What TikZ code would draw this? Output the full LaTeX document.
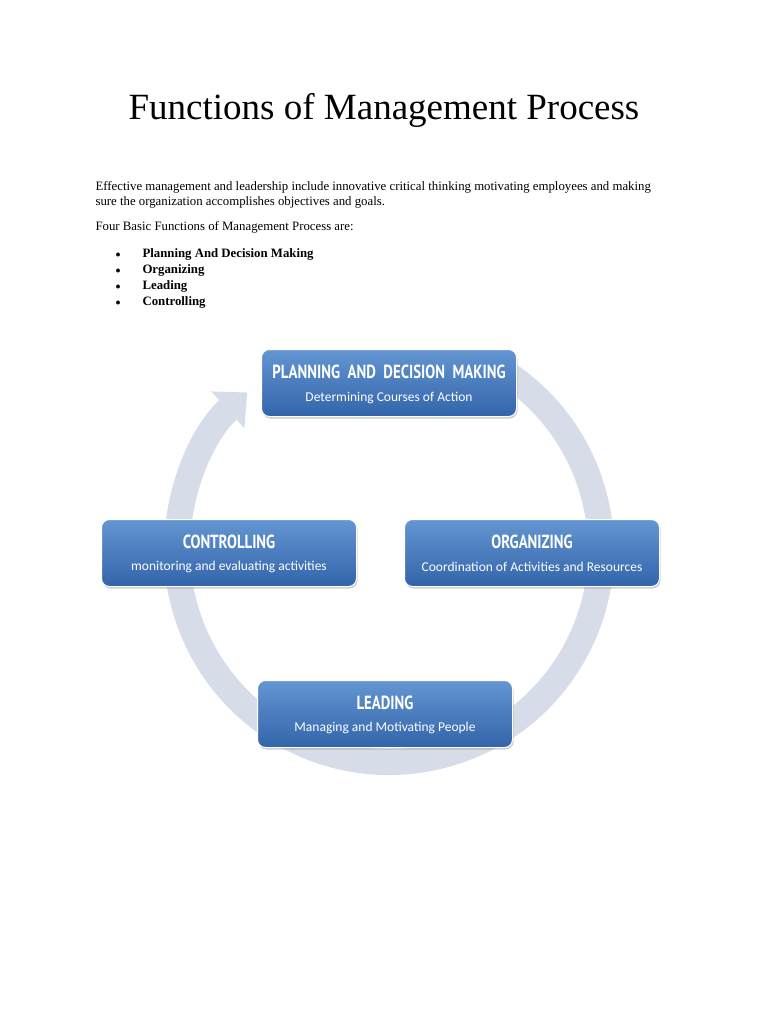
\documentclass[tikz,border=0pt]{standalone}
\usepackage{fontspec}
\setmainfont{Liberation Serif}
\newfontfamily\boxfont{Carlito}
\newfontfamily\headfont{PT Sans}
\usetikzlibrary{arrows.meta,shadows}
\definecolor{band}{RGB}{214,220,232}
\definecolor{boxtop}{RGB}{100,150,210}
\definecolor{boxbot}{RGB}{50,100,170}
\tikzset{
 fbox/.style={rounded corners=8pt, minimum width=255pt, minimum height=67pt, draw=white, line width=1pt,
   top color=boxtop, bottom color=boxbot, drop shadow={shadow xshift=1pt,shadow yshift=-2pt,opacity=0.4}},
 ftitle/.style={text=white, xscale=0.78, font=\headfont\bfseries\fontsize{19}{20}\selectfont},
 fsub/.style={text=white, font=\boxfont\fontsize{13.5}{14}\selectfont},
 para/.style={anchor=base west, font=\fontsize{12.8}{14}\selectfont},
 bul/.style={anchor=base west, font=\bfseries\fontsize{12.8}{14}\selectfont}
}
\begin{document}
\begin{tikzpicture}[x=1pt,y=-1pt]
\useasboundingbox (0,0) rectangle (768,1024);
\node[anchor=base, font=\fontsize{37}{40}\selectfont] (title) at (384,120) {Functions of Management Process};
\node[para] (p1) at (92,191) {Effective management and leadership include innovative critical thinking motivating employees and making};
\node[para] (p2) at (92,206) {sure the organization accomplishes objectives and goals.};
\node[para] (p3) at (92,231) {Four Basic Functions of Management Process are:};
\foreach \t [count=\i] in {Planning And Decision Making,Organizing,Leading,Controlling}{
  \node[anchor=base, font=\fontsize{10}{10}\selectfont] (d\i) at (118,241+16*\i) {$\bullet$};
  \node[bul] (b\i) at (139,241+16*\i) {\t};
}
% cycle band
\coordinate (c) at (389,550);
\draw[band, line width=26pt, -{Triangle[width=48pt,length=26pt]}]
  ([shift={(-60:212)}]c) arc[start angle=-60, end angle=228, radius=212];
\node[fbox] (plan) at (389,383) {};
\node[ftitle] at (389,372) {PLANNING\ \ AND\ \ DECISION\ \ MAKING};
\node[fsub] at (389,398) {Determining Courses of Action};
\node[fbox] (ctrl) at (229,553) {};
\node[ftitle] at (229,542) {CONTROLLING};
\node[fsub] at (229,567) {monitoring and evaluating activities};
\node[fbox] (org) at (532,553) {};
\node[ftitle] at (532,542) {ORGANIZING};
\node[fsub] at (532,567) {Coordination of Activities and Resources};
\node[fbox] (lead) at (385,714) {};
\node[ftitle] at (385,703) {LEADING};
\node[fsub] at (385,728) {Managing and Motivating People};
\end{tikzpicture}
\end{document}
